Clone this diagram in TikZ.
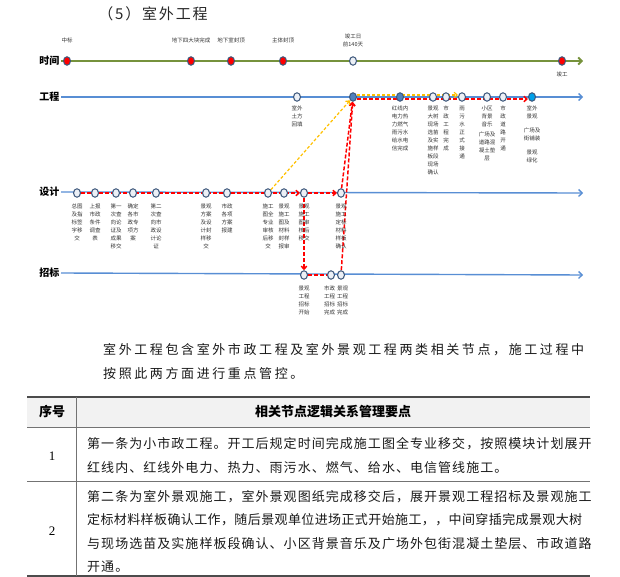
\documentclass[tikz,border=0pt]{standalone}
\usepackage{fontspec}
\setmainfont{Noto Sans CJK SC}
\newfontfamily\numfont{Liberation Serif}
\usepackage{tikz}
\usetikzlibrary{arrows.meta, positioning, shapes.geometric, backgrounds}
\definecolor{timegreen}{RGB}{118, 146, 60}
\definecolor{lineblue}{RGB}{88, 142, 212}
\definecolor{dotedge}{RGB}{62, 88, 124}
\definecolor{dotfill}{RGB}{236, 240, 246}
\definecolor{dotsteel}{RGB}{79, 129, 189}
\definecolor{dotsky}{RGB}{0, 160, 233}
\definecolor{flowred}{RGB}{255, 0, 0}
\definecolor{flowyellow}{RGB}{255, 192, 0}
\definecolor{headgray}{RGB}{242, 242, 242}
\newcommand\tagfont{\fontsize{5.5}{8}\selectfont}
\newcommand\notefont{\fontsize{13}{24}\selectfont\addfontfeature{LetterSpace=20}}
\newcommand\tblfont{\fontsize{13}{23.3}\selectfont\addfontfeature{LetterSpace=8}}

\begin{document}
\begin{tikzpicture}[x=1pt, y=-1pt,
    mstone/.style={ellipse, draw=dotedge, line width=1.1pt, fill=dotfill, minimum width=7pt, minimum height=8.5pt, inner sep=0pt},
    redstone/.style={mstone, fill=flowred},
    nlabel/.style={font=\tagfont, text=black!80, align=center, inner sep=0pt},
    rowname/.style={font=\fontsize{10}{12}\selectfont\bfseries, anchor=east, inner sep=1.5pt},
    axistip/.style={-{Straight Barb[length=3.5pt, width=7pt]}},
    flowtip/.style={-{Straight Barb[length=3pt, width=5.5pt]}},
    redflow/.style={flowred, line width=1.5pt, dash pattern=on 4pt off 2pt},
    yellowflow/.style={flowyellow, line width=1.2pt, dash pattern=on 3pt off 2pt}
]
    \useasboundingbox (0,0) rectangle (620,577);

    % Title
    \node[font={\fontsize{15}{18}\selectfont\addfontfeature{LetterSpace=12}}, text=black!85] (title) at (153,14) {（5）室外工程};

    % Row names
    \node[rowname] (rtime) at (61,61) {时间};
    \node[rowname] (rwork) at (61,97) {工程};
    \node[rowname] (rdesign) at (61,192) {设计};
    \node[rowname] (rbid) at (61,273) {招标};
    \coordinate (tend) at (583,61);
    \coordinate (wend) at (583,97);
    \coordinate (dend) at (583,193);
    \coordinate (bend) at (583,275);

    % Time
    \node[redstone] (tm1) at (67,61) {};
    \node[redstone] (tm2) at (191,61) {};
    \node[redstone] (tm3) at (231,61) {};
    \node[redstone] (tm4) at (283,61) {};
    \node[mstone] (tm5) at (353,61) {};
    \node[redstone] (tm6) at (562,61) {};
    \node[nlabel, above=13pt of tm1] {中标};
    \node[nlabel, above=13pt of tm2] {地下四大块完成};
    \node[nlabel, above=13pt of tm3] {地下室封顶};
    \node[nlabel, above=13pt of tm4] {主体封顶};
    \node[nlabel, above=9pt of tm5] {竣工日\\前140天};
    \node[nlabel, below=6pt of tm6] {竣工};

    % Works
    \node[mstone] (gc1) at (297,97) {};
    \node[mstone, fill=dotsteel] (gc2) at (353,97) {};
    \node[mstone, fill=dotsteel] (gc3) at (400,97) {};
    \node[mstone] (gc4) at (433,97) {};
    \node[mstone] (gc5) at (446,97) {};
    \node[mstone] (gc6) at (462,97) {};
    \node[mstone] (gc7) at (487,97) {};
    \node[mstone] (gc8) at (503,97) {};
    \node[mstone, fill=dotsky] (gc9) at (532,97) {};
    \node[nlabel, below=4pt of gc1] {室外\\土方\\回填};
    \node[nlabel, below=4pt of gc3] {红线内\\电力热\\力燃气\\雨污水\\给水电\\信完成};
    \node[nlabel, below=4pt of gc4] {景观\\大树\\现场\\选苗\\及实\\施样\\板段\\现场\\确认};
    \node[nlabel, below=4pt of gc5] {市\\政\\工\\程\\完\\成};
    \node[nlabel, below=4pt of gc6] {雨\\污\\水\\正\\式\\接\\通};
    \node[nlabel, below=4pt of gc7] {小区\\背景\\音乐\\[2pt]广场及\\道路混\\凝土垫\\层};
    \node[nlabel, below=4pt of gc8] {市\\政\\道\\路\\开\\通};
    \node[nlabel, below=4pt of gc9] {室外\\景观\\[6pt]广场及\\街铺装\\[6pt]景观\\绿化};

    % Design
    \node[mstone] (sj1) at (77,193) {};
    \node[mstone] (sj2) at (95,193) {};
    \node[mstone] (sj3) at (116,193) {};
    \node[mstone] (sj4) at (133,193) {};
    \node[mstone] (sj5) at (156,193) {};
    \node[mstone] (sj6) at (206,193) {};
    \node[mstone] (sj7) at (227,193) {};
    \node[mstone] (sj8) at (268,193) {};
    \node[mstone] (sj9) at (284,193) {};
    \node[mstone] (sj10) at (304,193) {};
    \node[mstone] (sj11) at (341,193) {};
    \node[nlabel, below=6pt of sj1] {总图\\及指\\标签\\字移\\交};
    \node[nlabel, below=6pt of sj2] {上报\\市政\\条件\\调查\\表};
    \node[nlabel, below=6pt of sj3] {第一\\次查\\向论\\证及\\成果\\移交};
    \node[nlabel, below=6pt of sj4] {确定\\各市\\政专\\项方\\案};
    \node[nlabel, below=6pt of sj5] {第二\\次查\\向市\\政设\\计论\\证};
    \node[nlabel, below=6pt of sj6] {景观\\方案\\及设\\计封\\样移\\交};
    \node[nlabel, below=6pt of sj7] {市政\\各项\\方案\\报建};
    \node[nlabel, below=6pt of sj8] {施工\\图全\\专业\\审核\\后移\\交};
    \node[nlabel, below=6pt of sj9] {景观\\施工\\图及\\材料\\封样\\报审};
    \node[nlabel, below=6pt of sj10] {景观\\施工\\图审\\核后\\移交};
    \node[nlabel, below=6pt of sj11] {景观\\施工\\定标\\材料\\样板\\确认};

    % Bidding
    \node[mstone] (zb1) at (304,275) {};
    \node[mstone] (zb2) at (331,275) {};
    \node[mstone] (zb3) at (341,275) {};
    \node[nlabel, below=6pt of zb1] {景观\\工程\\招标\\开始};
    \node[nlabel, below=6pt of zb2, xshift=-1.5pt] {市政\\工程\\招标\\完成};
    \node[nlabel, below=6pt of zb3, xshift=1.5pt] {景观\\工程\\招标\\完成};

    % Lines and flows
    \begin{scope}[on background layer]
        \draw[timegreen, line width=1.8pt, axistip] (rtime.east) -- (tend);
        \draw[lineblue, line width=1.4pt, axistip] (rwork.east) -- (wend);
        \draw[lineblue, line width=1.4pt, axistip] (rdesign.east) -- (dend);
        \draw[lineblue, line width=1.4pt, axistip] (rbid.east) -- (bend);

        \draw[redflow, flowtip] (sj1) -- (sj10);
        \draw[redflow, flowtip] (sj10) -- (sj11);
        \draw[redflow, flowtip] (sj10) -- (zb1);
        \draw[redflow] (zb1) -- (zb2);
        \draw[redflow, flowtip] (zb3) -- (gc2);
        \draw[redflow, flowtip] (sj11) -- (gc2);
        \draw[yellowflow, flowtip] (sj8) -- (gc2);
        \draw[yellowflow, flowtip] ([yshift=2pt]gc2.east) -- ([yshift=2pt]gc6.west);
        \draw[redflow, flowtip] ([yshift=-2pt]gc2.east) -- ([yshift=-2pt]gc9.west);
    \end{scope}

    % Note
    \node[font=\notefont, text=black!90, anchor=west, align=left, inner sep=0pt] (note) at (103,362)
        {室外工程包含室外市政工程及室外景观工程两类相关节点，施工过程中\\按照此两方面进行重点管控。};

    % Table
    \fill[headgray] (27,397) rectangle (590,427);
    \draw[black!70, line width=1.1pt] (27,397) -- (590,397);
    \draw[black!55, line width=0.8pt] (27,427) -- (590,427);
    \draw[black!55, line width=0.8pt] (27,481) -- (590,481);
    \draw[black!70, line width=1.1pt] (27,576) -- (590,576);
    \draw[black!55, line width=0.8pt] (76,397) -- (76,576);
    \node[font={\fontsize{13}{16}\selectfont\bfseries}] (hno) at (52,412) {序号};
    \node[font={\fontsize{13}{16}\selectfont\bfseries}] (hkey) at (333,412) {相关节点逻辑关系管理要点};
    \node[font={\fontsize{13}{16}\selectfont\numfont}] (no1) at (52,456) {1};
    \node[font=\tblfont, text=black!90, anchor=west, align=left, inner sep=0pt] (item1) at (87,455.5)
        {第一条为小市政工程。开工后规定时间完成施工图全专业移交，按照模块计划展开\\红线内、红线外电力、热力、雨污水、燃气、给水、电信管线施工。};
    \node[font={\fontsize{13}{16}\selectfont\numfont}] (no2) at (52,531) {2};
    \node[font=\tblfont, text=black!90, anchor=west, align=left, inner sep=0pt] (item2) at (87,531.5)
        {第二条为室外景观施工，室外景观图纸完成移交后，展开景观工程招标及景观施工\\{\addfontfeature{LetterSpace=3}定标材料样板确认工作，随后景观单位进场正式开始施工，，中间穿插完成景观大树}\\与现场选苗及实施样板段确认、小区背景音乐及广场外包街混凝土垫层、市政道路\\开通。};
\end{tikzpicture}
\end{document}
